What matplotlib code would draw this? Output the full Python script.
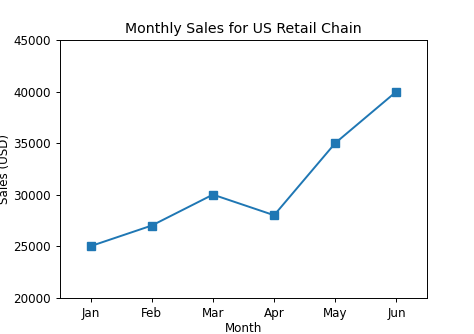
import matplotlib.pyplot as plt

# Monatliche Umsätze
months = ["Jan", "Feb", "Mar", "Apr", "May", "Jun"]
sales = [25000, 27000, 30000, 28000, 35000, 40000]

fig = plt.figure(figsize=(4.74, 3.34), dpi=100)
ax = fig.add_axes([0.1266, 0.1087, 0.7743, 0.7716])

ax.plot(range(len(months)), sales, marker="s", color="#1f77b4",
        linewidth=1.4, markersize=6)

ax.set_xticks(range(len(months)))
ax.set_xticklabels(months)
ax.set_xlim(-0.5, len(months) - 0.5)
ax.set_ylim(20000, 45000)

ax.tick_params(labelsize=8.6, length=3, width=0.7)
for s in ax.spines.values():
    s.set_linewidth(0.7)

ax.set_title("Monthly Sales for US Retail Chain", fontsize=10.2, pad=5)
ax.set_xlabel("Month", fontsize=8.6, labelpad=2)
ax.set_ylabel("Sales (USD)", fontsize=8.6, labelpad=2)

fig.savefig("out.png", dpi=100)
